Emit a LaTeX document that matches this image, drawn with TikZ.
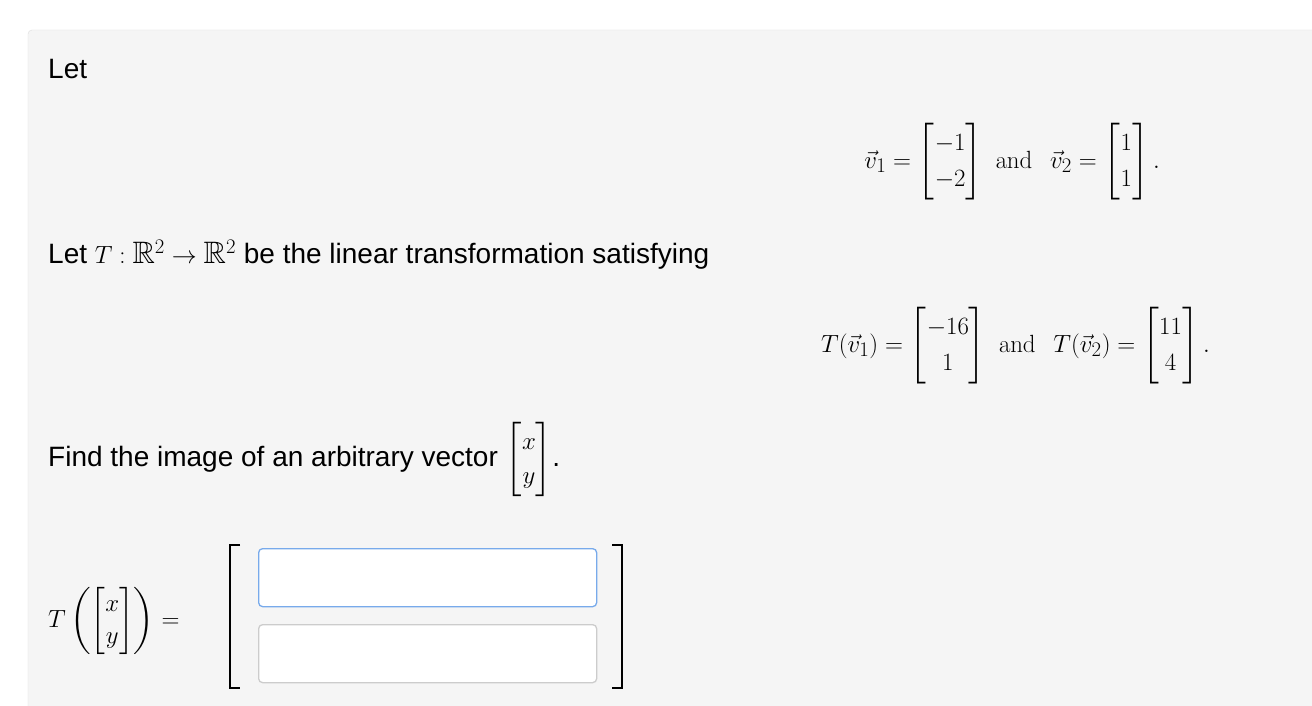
\documentclass[tikz,border=0pt]{standalone}
\usepackage{amsmath,amssymb}
\usepackage[no-math]{fontspec}
\setmainfont{Liberation Sans}
\definecolor{focusblue}{RGB}{120,170,235}
\begin{document}
\begin{tikzpicture}[x=1pt,y=-1pt,
  txt/.style={anchor=base west,inner sep=0pt,font=\fontsize{28}{32}\selectfont},
  eq/.style={anchor=base east,inner sep=0pt,font=\fontsize{32}{36}\selectfont},
  ansbox/.style={draw=#1,line width=1.3pt,rounded corners=4pt,fill=white}]
\useasboundingbox (0,0) rectangle (1312,706);
\fill[white] (0,0) rectangle (1312,706);
\draw[draw=black!13,fill=black!4,rounded corners=4pt] (28,30) rectangle (1330,730);
\node[txt] (let) at (48,79) {Let};
\node[eq] (v) at (1160,168) {$\vec v_1=\begin{bmatrix}-1\\-2\end{bmatrix}\ \mathrm{and}\ \ \vec v_2=\begin{bmatrix}1\\1\end{bmatrix}.$};
\node[txt] (lett) at (48,263) {Let {\fontsize{31}{34}\selectfont$T:\mathbb{R}^2\rightarrow\mathbb{R}^2$} be the linear transformation satisfying};
\node[eq] (tv) at (1210,352) {$T(\vec v_1)=\begin{bmatrix}-16\\1\end{bmatrix}\ \mathrm{and}\ \ T(\vec v_2)=\begin{bmatrix}11\\4\end{bmatrix}.$};
\node[txt] (find) at (48,466) {Find the image of an arbitrary vector {\fontsize{31}{34}\selectfont$\begin{bmatrix}x\\y\end{bmatrix}$}.};
\node[txt] (tx) at (48,627) {\fontsize{28}{32}\selectfont$T\left(\begin{bmatrix}x\\y\end{bmatrix}\right)=$};
\draw[line width=1.3pt] (240,545) -- (230,545) -- (230,688) -- (240,688);
\draw[line width=1.3pt] (612,545) -- (622,545) -- (622,688) -- (612,688);
\node[ansbox=focusblue,minimum width=338,minimum height=58,inner sep=0pt,anchor=north west] (a1) at (258,548) {};
\node[ansbox=black!20,minimum width=338,minimum height=58,inner sep=0pt,anchor=north west] (a2) at (258,624) {};
\end{tikzpicture}
\end{document}
